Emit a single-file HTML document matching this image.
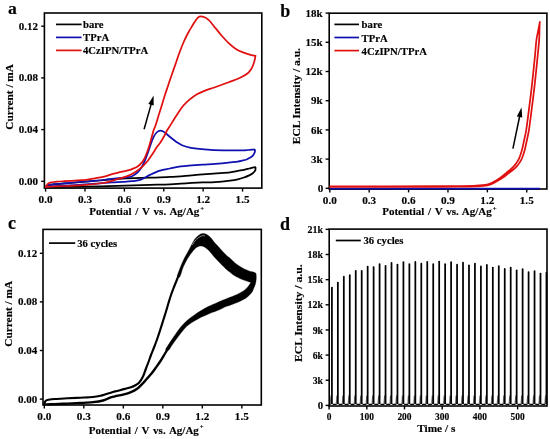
<!DOCTYPE html>
<html><head><meta charset="utf-8"><style>
html,body{margin:0;padding:0;background:#fff;}
svg{display:block;}
text{font-family:"Liberation Serif", serif;font-weight:bold;fill:#000;stroke:#000;stroke-width:0.15px;}
</style></head><body>
<div style="will-change:transform;width:550px;height:439px">
<svg width="550" height="439" viewBox="0 0 550 439">
<rect width="550" height="439" fill="#fff"/>
<rect x="44.40" y="13.00" width="217.40" height="175.10" fill="none" stroke="#000" stroke-width="1.6"/>
<line x1="45.60" y1="188.10" x2="45.60" y2="191.60" stroke="#000" stroke-width="1.4" stroke-linecap="butt"/>
<text x="45.60" y="203.40" font-size="11.2" text-anchor="middle" >0.0</text>
<line x1="84.99" y1="188.10" x2="84.99" y2="191.60" stroke="#000" stroke-width="1.4" stroke-linecap="butt"/>
<text x="84.99" y="203.40" font-size="11.2" text-anchor="middle" >0.3</text>
<line x1="124.38" y1="188.10" x2="124.38" y2="191.60" stroke="#000" stroke-width="1.4" stroke-linecap="butt"/>
<text x="124.38" y="203.40" font-size="11.2" text-anchor="middle" >0.6</text>
<line x1="163.77" y1="188.10" x2="163.77" y2="191.60" stroke="#000" stroke-width="1.4" stroke-linecap="butt"/>
<text x="163.77" y="203.40" font-size="11.2" text-anchor="middle" >0.9</text>
<line x1="203.16" y1="188.10" x2="203.16" y2="191.60" stroke="#000" stroke-width="1.4" stroke-linecap="butt"/>
<text x="203.16" y="203.40" font-size="11.2" text-anchor="middle" >1.2</text>
<line x1="242.55" y1="188.10" x2="242.55" y2="191.60" stroke="#000" stroke-width="1.4" stroke-linecap="butt"/>
<text x="242.55" y="203.40" font-size="11.2" text-anchor="middle" >1.5</text>
<line x1="41.20" y1="181.30" x2="44.40" y2="181.30" stroke="#000" stroke-width="1.4" stroke-linecap="butt"/>
<text x="38.00" y="184.80" font-size="11" text-anchor="end" >0.00</text>
<line x1="41.20" y1="129.60" x2="44.40" y2="129.60" stroke="#000" stroke-width="1.4" stroke-linecap="butt"/>
<text x="38.00" y="133.10" font-size="11" text-anchor="end" >0.04</text>
<line x1="41.20" y1="77.90" x2="44.40" y2="77.90" stroke="#000" stroke-width="1.4" stroke-linecap="butt"/>
<text x="38.00" y="81.40" font-size="11" text-anchor="end" >0.08</text>
<line x1="41.20" y1="26.20" x2="44.40" y2="26.20" stroke="#000" stroke-width="1.4" stroke-linecap="butt"/>
<text x="38.00" y="29.70" font-size="11" text-anchor="end" >0.12</text>
<text x="89.30" y="215.40" font-size="11" text-anchor="start" word-spacing="1.1">Potential / V vs. Ag/Ag</text>
<text x="200.30" y="210.80" font-size="6.8" text-anchor="start" >+</text>
<text transform="translate(12.8,96.9) rotate(-90)" font-size="10.7" text-anchor="middle" textLength="65.6" lengthAdjust="spacingAndGlyphs">Current / mA</text>
<text x="8.00" y="13.70" font-size="17.6" text-anchor="start" >a</text>
<line x1="56.00" y1="24.40" x2="81.60" y2="24.40" stroke="#000" stroke-width="1.7" stroke-linecap="butt"/>
<text x="83.00" y="28.40" font-size="10.7" text-anchor="start" >bare</text>
<line x1="56.00" y1="37.40" x2="81.60" y2="37.40" stroke="#1010b0" stroke-width="1.7" stroke-linecap="butt"/>
<text x="83.00" y="41.40" font-size="10.7" text-anchor="start" >TPrA</text>
<line x1="56.00" y1="50.40" x2="81.60" y2="50.40" stroke="#e01010" stroke-width="1.7" stroke-linecap="butt"/>
<text x="83.00" y="54.40" font-size="10.7" text-anchor="start" >4CzIPN/TPrA</text>
<line x1="144.10" y1="129.20" x2="151.26" y2="103.88" stroke="#000" stroke-width="1.5" stroke-linecap="butt"/>
<path d="M153.60,95.60 L153.68,105.60 L148.29,104.08 Z" fill="#000"/>
<path d="M45.80,186.80 C46.08,186.60 46.47,185.97 47.50,185.60 C48.53,185.23 48.25,185.03 52.00,184.60 C55.75,184.17 62.00,183.68 70.00,183.00 C78.00,182.32 91.20,181.23 100.00,180.50 C108.80,179.77 114.47,179.07 122.80,178.60 C131.13,178.13 142.13,177.98 150.00,177.70 C157.87,177.42 163.03,177.30 170.00,176.90 C176.97,176.50 184.53,175.85 191.80,175.30 C199.07,174.75 207.23,174.08 213.60,173.60 C219.97,173.12 225.97,172.85 230.00,172.40 C234.03,171.95 235.47,171.33 237.80,170.90 C240.13,170.47 242.10,170.20 244.00,169.80 C245.90,169.40 247.62,168.90 249.20,168.50 C250.78,168.10 252.47,167.60 253.50,167.40 C254.53,167.20 255.08,167.32 255.40,167.30" fill="none" stroke="#000" stroke-width="1.75" stroke-linejoin="round" stroke-linecap="round"/>
<path d="M255.40,167.30 C255.42,167.67 255.58,168.88 255.50,169.50 C255.42,170.12 255.40,170.33 254.90,171.00 C254.40,171.67 253.45,172.77 252.50,173.50 C251.55,174.23 250.62,174.73 249.20,175.40 C247.78,176.07 245.90,176.85 244.00,177.50 C242.10,178.15 240.13,178.78 237.80,179.30 C235.47,179.82 233.80,180.13 230.00,180.60 C226.20,181.07 219.55,181.80 215.00,182.10 C210.45,182.40 206.57,182.27 202.70,182.40 C198.83,182.53 195.43,182.70 191.80,182.90 C188.17,183.10 184.53,183.37 180.90,183.60 C177.27,183.83 175.15,184.08 170.00,184.30 C164.85,184.52 157.50,184.68 150.00,184.90 C142.50,185.12 133.33,185.37 125.00,185.60 C116.67,185.83 110.17,186.10 100.00,186.30 C89.83,186.50 73.03,186.70 64.00,186.80 C54.97,186.90 48.83,186.88 45.80,186.90" fill="none" stroke="#000" stroke-width="1.75" stroke-linejoin="round" stroke-linecap="round"/>
<path d="M45.80,186.80 C46.03,186.58 46.50,185.87 47.20,185.50 C47.90,185.13 47.20,184.95 50.00,184.60 C52.80,184.25 58.17,183.92 64.00,183.40 C69.83,182.88 78.50,182.07 85.00,181.50 C91.50,180.93 98.50,180.45 103.00,180.00 C107.50,179.55 109.00,179.17 112.00,178.80 C115.00,178.43 118.33,178.07 121.00,177.80 C123.67,177.53 126.17,177.45 128.00,177.20 C129.83,176.95 130.57,176.95 132.00,176.30 C133.43,175.65 135.35,174.30 136.60,173.30 C137.85,172.30 138.55,171.52 139.50,170.30 C140.45,169.08 141.35,167.75 142.30,166.00 C143.25,164.25 144.27,162.00 145.20,159.80 C146.13,157.60 146.98,155.35 147.90,152.80 C148.82,150.25 149.77,147.10 150.70,144.50 C151.63,141.90 152.52,139.20 153.50,137.20 C154.48,135.20 155.48,133.60 156.60,132.50 C157.72,131.40 159.10,130.77 160.20,130.60 C161.30,130.43 162.27,131.05 163.20,131.50 C164.13,131.95 164.50,132.25 165.80,133.30 C167.10,134.35 169.23,136.37 171.00,137.80 C172.77,139.23 174.57,140.67 176.40,141.90 C178.23,143.13 179.57,144.22 182.00,145.20 C184.43,146.18 187.27,147.10 191.00,147.80 C194.73,148.50 199.03,148.97 204.40,149.40 C209.77,149.83 216.93,150.25 223.20,150.40 C229.47,150.55 237.87,150.37 242.00,150.30 C246.13,150.23 246.33,150.10 248.00,150.00 C249.67,149.90 250.90,149.75 252.00,149.70 C253.10,149.65 254.17,149.70 254.60,149.70" fill="none" stroke="#1010b0" stroke-width="1.75" stroke-linejoin="round" stroke-linecap="round"/>
<path d="M254.60,149.70 C254.67,149.97 255.05,150.72 255.00,151.30 C254.95,151.88 254.73,152.38 254.30,153.20 C253.87,154.02 253.25,155.38 252.40,156.20 C251.55,157.02 250.27,157.52 249.20,158.10 C248.13,158.68 247.20,159.27 246.00,159.70 C244.80,160.13 243.37,160.38 242.00,160.70 C240.63,161.02 239.80,161.32 237.80,161.60 C235.80,161.88 231.90,162.20 230.00,162.40 C228.10,162.60 228.90,162.55 226.40,162.80 C223.90,163.05 218.95,163.60 215.00,163.90 C211.05,164.20 206.57,164.35 202.70,164.60 C198.83,164.85 195.43,165.10 191.80,165.40 C188.17,165.70 184.53,165.88 180.90,166.40 C177.27,166.92 173.48,167.80 170.00,168.50 C166.52,169.20 163.25,169.58 160.00,170.60 C156.75,171.62 153.67,173.10 150.50,174.60 C147.33,176.10 144.08,178.50 141.00,179.60 C137.92,180.70 135.17,180.82 132.00,181.20 C128.83,181.58 125.33,181.70 122.00,181.90 C118.67,182.10 115.67,182.17 112.00,182.40 C108.33,182.63 104.50,182.97 100.00,183.30 C95.50,183.63 91.00,184.00 85.00,184.40 C79.00,184.80 69.83,185.38 64.00,185.70 C58.17,186.02 53.03,186.12 50.00,186.30 C46.97,186.48 46.50,186.72 45.80,186.80" fill="none" stroke="#1010b0" stroke-width="1.75" stroke-linejoin="round" stroke-linecap="round"/>
<path d="M45.80,186.80 C46.03,186.43 46.50,185.30 47.20,184.60 C47.90,183.90 48.37,183.08 50.00,182.60 C51.63,182.12 54.67,181.93 57.00,181.70 C59.33,181.47 61.00,181.38 64.00,181.20 C67.00,181.02 71.33,180.83 75.00,180.60 C78.67,180.37 82.67,180.18 86.00,179.80 C89.33,179.42 92.17,178.80 95.00,178.30 C97.83,177.80 100.17,177.48 103.00,176.80 C105.83,176.12 109.00,175.03 112.00,174.20 C115.00,173.37 118.83,172.32 121.00,171.80 C123.17,171.28 123.67,171.37 125.00,171.10 C126.33,170.83 127.67,170.62 129.00,170.20 C130.33,169.78 131.77,169.10 133.00,168.60 C134.23,168.10 135.23,167.88 136.40,167.20 C137.57,166.52 138.87,165.57 140.00,164.50 C141.13,163.43 142.17,162.47 143.20,160.80 C144.23,159.13 145.25,156.78 146.20,154.50 C147.15,152.22 148.05,149.77 148.90,147.10 C149.75,144.43 150.53,141.27 151.30,138.50 C152.07,135.73 152.80,132.67 153.50,130.50 C154.20,128.33 154.67,127.95 155.50,125.50 C156.33,123.05 157.50,119.02 158.50,115.80 C159.50,112.58 160.42,109.70 161.50,106.20 C162.58,102.70 163.87,98.33 165.00,94.80 C166.13,91.27 167.22,88.22 168.30,85.00 C169.38,81.78 170.23,79.17 171.50,75.50 C172.77,71.83 174.57,66.83 175.90,63.00 C177.23,59.17 178.17,56.08 179.50,52.50 C180.83,48.92 182.52,44.67 183.90,41.50 C185.28,38.33 186.48,35.98 187.80,33.50 C189.12,31.02 190.12,29.25 191.80,26.60 C193.48,23.95 196.10,19.27 197.90,17.60 C199.70,15.93 200.82,16.23 202.60,16.60 C204.38,16.97 206.42,17.83 208.60,19.80 C210.78,21.77 213.62,25.87 215.70,28.40 C217.78,30.93 218.93,32.53 221.10,35.00 C223.27,37.47 226.30,40.92 228.70,43.20 C231.10,45.48 233.23,47.22 235.50,48.70 C237.77,50.18 239.80,51.08 242.30,52.10 C244.80,53.12 248.32,54.18 250.50,54.80 C252.68,55.42 254.58,55.63 255.40,55.80" fill="none" stroke="#e01010" stroke-width="1.75" stroke-linejoin="round" stroke-linecap="round"/>
<path d="M255.40,55.80 C255.30,56.42 255.15,58.05 254.80,59.50 C254.45,60.95 253.85,63.00 253.30,64.50 C252.75,66.00 252.42,67.05 251.50,68.50 C250.58,69.95 249.78,71.62 247.80,73.20 C245.82,74.78 242.78,76.50 239.60,78.00 C236.42,79.50 232.80,80.65 228.70,82.20 C224.60,83.75 218.95,85.90 215.00,87.30 C211.05,88.70 208.00,89.45 205.00,90.60 C202.00,91.75 199.63,92.67 197.00,94.20 C194.37,95.73 191.50,97.87 189.20,99.80 C186.90,101.73 185.10,103.52 183.20,105.80 C181.30,108.08 179.40,111.13 177.80,113.50 C176.20,115.87 174.87,117.98 173.60,120.00 C172.33,122.02 171.28,123.90 170.20,125.60 C169.12,127.30 168.00,128.63 167.10,130.20 C166.20,131.77 165.87,133.03 164.80,135.00 C163.73,136.97 162.02,139.98 160.70,142.00 C159.38,144.02 158.30,145.07 156.90,147.10 C155.50,149.13 153.82,151.92 152.30,154.20 C150.78,156.48 149.32,158.87 147.80,160.80 C146.28,162.73 144.72,164.33 143.20,165.80 C141.68,167.27 140.15,168.47 138.70,169.60 C137.25,170.73 136.18,171.60 134.50,172.60 C132.82,173.60 130.85,174.67 128.60,175.60 C126.35,176.53 123.77,177.32 121.00,178.20 C118.23,179.08 115.00,180.10 112.00,180.90 C109.00,181.70 107.33,182.33 103.00,183.00 C98.67,183.67 92.50,184.40 86.00,184.90 C79.50,185.40 70.00,185.72 64.00,186.00 C58.00,186.28 53.03,186.47 50.00,186.60 C46.97,186.73 46.50,186.77 45.80,186.80" fill="none" stroke="#e01010" stroke-width="1.75" stroke-linejoin="round" stroke-linecap="round"/>
<rect x="329.20" y="13.20" width="217.70" height="175.80" fill="none" stroke="#000" stroke-width="1.6"/>
<line x1="329.80" y1="189.00" x2="329.80" y2="192.40" stroke="#000" stroke-width="1.4" stroke-linecap="butt"/>
<text x="329.80" y="203.80" font-size="11.2" text-anchor="middle" >0.0</text>
<line x1="369.19" y1="189.00" x2="369.19" y2="192.40" stroke="#000" stroke-width="1.4" stroke-linecap="butt"/>
<text x="369.19" y="203.80" font-size="11.2" text-anchor="middle" >0.3</text>
<line x1="408.58" y1="189.00" x2="408.58" y2="192.40" stroke="#000" stroke-width="1.4" stroke-linecap="butt"/>
<text x="408.58" y="203.80" font-size="11.2" text-anchor="middle" >0.6</text>
<line x1="447.97" y1="189.00" x2="447.97" y2="192.40" stroke="#000" stroke-width="1.4" stroke-linecap="butt"/>
<text x="447.97" y="203.80" font-size="11.2" text-anchor="middle" >0.9</text>
<line x1="487.36" y1="189.00" x2="487.36" y2="192.40" stroke="#000" stroke-width="1.4" stroke-linecap="butt"/>
<text x="487.36" y="203.80" font-size="11.2" text-anchor="middle" >1.2</text>
<line x1="526.75" y1="189.00" x2="526.75" y2="192.40" stroke="#000" stroke-width="1.4" stroke-linecap="butt"/>
<text x="526.75" y="203.80" font-size="11.2" text-anchor="middle" >1.5</text>
<line x1="325.60" y1="188.30" x2="329.20" y2="188.30" stroke="#000" stroke-width="1.4" stroke-linecap="butt"/>
<text x="323.20" y="192.00" font-size="11" text-anchor="end" >0</text>
<line x1="325.60" y1="159.10" x2="329.20" y2="159.10" stroke="#000" stroke-width="1.4" stroke-linecap="butt"/>
<text x="322.60" y="162.80" font-size="11" text-anchor="end" >3k</text>
<line x1="325.60" y1="129.90" x2="329.20" y2="129.90" stroke="#000" stroke-width="1.4" stroke-linecap="butt"/>
<text x="322.60" y="133.60" font-size="11" text-anchor="end" >6k</text>
<line x1="325.60" y1="100.70" x2="329.20" y2="100.70" stroke="#000" stroke-width="1.4" stroke-linecap="butt"/>
<text x="322.60" y="104.40" font-size="11" text-anchor="end" >9k</text>
<line x1="325.60" y1="71.50" x2="329.20" y2="71.50" stroke="#000" stroke-width="1.4" stroke-linecap="butt"/>
<text x="322.60" y="75.20" font-size="11" text-anchor="end" >12k</text>
<line x1="325.60" y1="42.31" x2="329.20" y2="42.31" stroke="#000" stroke-width="1.4" stroke-linecap="butt"/>
<text x="322.60" y="46.01" font-size="11" text-anchor="end" >15k</text>
<line x1="325.60" y1="13.11" x2="329.20" y2="13.11" stroke="#000" stroke-width="1.4" stroke-linecap="butt"/>
<text x="322.60" y="16.81" font-size="11" text-anchor="end" >18k</text>
<text x="382.20" y="215.40" font-size="11" text-anchor="start" word-spacing="1.0">Potential / V vs. Ag/Ag</text>
<text x="492.70" y="210.80" font-size="6.8" text-anchor="start" >+</text>
<text transform="translate(300.1,96.2) rotate(-90)" font-size="11" text-anchor="middle" textLength="96.2" lengthAdjust="spacingAndGlyphs">ECL Intensity / a.u.</text>
<text x="280.30" y="17.00" font-size="18.0" text-anchor="start" >b</text>
<line x1="334.40" y1="24.40" x2="359.00" y2="24.40" stroke="#000" stroke-width="1.7" stroke-linecap="butt"/>
<text x="361.60" y="28.40" font-size="10.7" text-anchor="start" >bare</text>
<line x1="334.40" y1="37.50" x2="359.00" y2="37.50" stroke="#1010b0" stroke-width="1.7" stroke-linecap="butt"/>
<text x="361.60" y="41.50" font-size="10.7" text-anchor="start" >TPrA</text>
<line x1="334.40" y1="50.60" x2="359.00" y2="50.60" stroke="#e01010" stroke-width="1.7" stroke-linecap="butt"/>
<text x="361.60" y="54.60" font-size="10.7" text-anchor="start" >4CzIPN/TPrA</text>
<line x1="329.80" y1="188.90" x2="539.88" y2="188.90" stroke="#000" stroke-width="1.6" stroke-linecap="butt"/>
<line x1="329.80" y1="188.60" x2="539.88" y2="188.60" stroke="#1010b0" stroke-width="1.6" stroke-linecap="butt"/>
<path d="M330.00,186.30 C348.33,186.28 418.33,186.23 440.00,186.20 C461.67,186.17 454.00,186.19 460.00,186.10 C465.99,186.01 471.50,185.90 475.98,185.64 C480.47,185.38 483.94,185.18 486.91,184.54 C489.87,183.90 491.64,182.87 493.76,181.81 C495.89,180.76 497.88,179.42 499.67,178.20 C501.47,176.98 502.91,175.81 504.53,174.49 C506.15,173.17 508.07,171.44 509.40,170.28 C510.73,169.12 511.52,168.46 512.49,167.53 C513.46,166.59 514.39,165.69 515.22,164.66 C516.05,163.63 516.74,162.54 517.45,161.35 C518.17,160.16 518.75,159.38 519.49,157.51 C520.23,155.64 521.22,152.60 521.90,150.14 C522.58,147.67 523.05,145.11 523.58,142.71 C524.11,140.31 524.63,137.88 525.08,135.73 C525.53,133.57 525.73,133.28 526.27,129.80 C526.80,126.31 527.61,119.82 528.26,114.83 C528.91,109.83 529.54,104.83 530.16,99.83 C530.78,94.84 531.39,89.84 531.96,84.85 C532.52,79.85 533.04,74.86 533.56,69.86 C534.07,64.86 534.57,59.87 535.06,54.87 C535.54,49.87 535.91,44.02 536.46,39.87 C537.00,35.71 537.80,32.78 538.34,29.94 C538.88,27.09 539.47,23.99 539.70,22.80 C539.93,21.61 539.74,21.59 539.70,22.80 C539.66,24.01 539.55,27.17 539.46,30.06 C539.37,32.95 539.43,35.96 539.14,40.13 C538.86,44.31 538.23,50.13 537.74,55.13 C537.26,60.13 536.76,65.14 536.24,70.14 C535.73,75.14 535.21,80.15 534.64,85.15 C534.07,90.16 533.46,95.16 532.84,100.17 C532.22,105.17 531.59,110.17 530.94,115.17 C530.29,120.18 529.47,126.69 528.93,130.20 C528.40,133.72 528.17,134.09 527.72,136.27 C527.27,138.46 526.76,140.86 526.22,143.29 C525.68,145.72 525.22,148.33 524.50,150.86 C523.78,153.40 522.73,156.53 521.91,158.49 C521.08,160.46 520.37,161.38 519.55,162.65 C518.72,163.92 517.92,165.07 516.98,166.14 C516.04,167.21 514.97,168.14 513.91,169.07 C512.85,170.00 512.01,170.62 510.60,171.72 C509.19,172.83 507.18,174.46 505.47,175.71 C503.76,176.96 502.20,178.02 500.33,179.20 C498.46,180.38 496.44,181.74 494.24,182.79 C492.03,183.83 490.13,184.86 487.09,185.46 C484.06,186.06 480.53,186.15 476.02,186.36 C471.50,186.57 466.01,186.63 460.00,186.70 C454.00,186.77 461.67,186.77 440.00,186.80 C418.33,186.83 348.33,186.88 330.00,186.90" fill="none" stroke="#e01010" stroke-width="1.75" stroke-linejoin="round" stroke-linecap="round"/>
<line x1="512.90" y1="148.60" x2="519.73" y2="116.02" stroke="#000" stroke-width="1.5" stroke-linecap="butt"/>
<path d="M521.50,107.60 L522.27,117.57 L516.79,116.42 Z" fill="#000"/>
<rect x="43.00" y="229.40" width="218.30" height="175.60" fill="none" stroke="#000" stroke-width="1.6"/>
<line x1="44.30" y1="405.00" x2="44.30" y2="408.50" stroke="#000" stroke-width="1.4" stroke-linecap="butt"/>
<text x="44.30" y="419.80" font-size="11.2" text-anchor="middle" >0.0</text>
<line x1="83.81" y1="405.00" x2="83.81" y2="408.50" stroke="#000" stroke-width="1.4" stroke-linecap="butt"/>
<text x="83.81" y="419.80" font-size="11.2" text-anchor="middle" >0.3</text>
<line x1="123.32" y1="405.00" x2="123.32" y2="408.50" stroke="#000" stroke-width="1.4" stroke-linecap="butt"/>
<text x="123.32" y="419.80" font-size="11.2" text-anchor="middle" >0.6</text>
<line x1="162.83" y1="405.00" x2="162.83" y2="408.50" stroke="#000" stroke-width="1.4" stroke-linecap="butt"/>
<text x="162.83" y="419.80" font-size="11.2" text-anchor="middle" >0.9</text>
<line x1="202.34" y1="405.00" x2="202.34" y2="408.50" stroke="#000" stroke-width="1.4" stroke-linecap="butt"/>
<text x="202.34" y="419.80" font-size="11.2" text-anchor="middle" >1.2</text>
<line x1="241.85" y1="405.00" x2="241.85" y2="408.50" stroke="#000" stroke-width="1.4" stroke-linecap="butt"/>
<text x="241.85" y="419.80" font-size="11.2" text-anchor="middle" >1.5</text>
<line x1="39.80" y1="399.10" x2="43.00" y2="399.10" stroke="#000" stroke-width="1.4" stroke-linecap="butt"/>
<text x="37.30" y="402.60" font-size="11" text-anchor="end" >0.00</text>
<line x1="39.80" y1="350.50" x2="43.00" y2="350.50" stroke="#000" stroke-width="1.4" stroke-linecap="butt"/>
<text x="37.30" y="354.00" font-size="11" text-anchor="end" >0.04</text>
<line x1="39.80" y1="301.90" x2="43.00" y2="301.90" stroke="#000" stroke-width="1.4" stroke-linecap="butt"/>
<text x="37.30" y="305.40" font-size="11" text-anchor="end" >0.08</text>
<line x1="39.80" y1="253.30" x2="43.00" y2="253.30" stroke="#000" stroke-width="1.4" stroke-linecap="butt"/>
<text x="37.30" y="256.80" font-size="11" text-anchor="end" >0.12</text>
<text x="88.80" y="433.60" font-size="11" text-anchor="start" word-spacing="1.1">Potential / V vs. Ag/Ag</text>
<text x="199.80" y="429.00" font-size="6.8" text-anchor="start" >+</text>
<text transform="translate(11.8,313.8) rotate(-90)" font-size="10.7" text-anchor="middle" textLength="65.8" lengthAdjust="spacingAndGlyphs">Current / mA</text>
<text x="8.00" y="228.60" font-size="18.0" text-anchor="start" >c</text>
<line x1="49.00" y1="243.10" x2="75.20" y2="243.10" stroke="#000" stroke-width="1.7" stroke-linecap="butt"/>
<text x="77.30" y="247.00" font-size="10.7" text-anchor="start" textLength="39.9" lengthAdjust="spacingAndGlyphs" >36 cycles</text>
<path d="M44.50,402.60 C44.75,402.27 45.35,401.07 46.00,400.60 C46.65,400.13 46.95,400.07 48.40,399.80 C49.85,399.53 51.52,399.25 54.70,399.00 C57.88,398.75 63.25,398.52 67.50,398.30 C71.75,398.08 75.97,397.92 80.20,397.70 C84.43,397.48 89.52,397.32 92.90,397.00 C96.28,396.68 98.38,396.25 100.50,395.80 C102.62,395.35 104.02,394.77 105.60,394.30 C107.18,393.83 108.43,393.48 110.00,393.00 C111.57,392.52 113.33,391.87 115.00,391.40 C116.67,390.93 118.33,390.62 120.00,390.20 C121.67,389.78 123.17,389.40 125.00,388.90 C126.83,388.40 129.33,387.77 131.00,387.20 C132.67,386.63 133.67,386.23 135.00,385.50 C136.33,384.77 137.67,384.30 139.00,382.80 C140.33,381.30 141.83,378.88 143.00,376.50 C144.17,374.12 145.08,370.92 146.00,368.50 C146.92,366.08 147.67,364.25 148.50,362.00 C149.33,359.75 150.08,357.42 151.00,355.00 C151.92,352.58 153.00,350.08 154.00,347.50 C155.00,344.92 156.00,342.33 157.00,339.50 C158.00,336.67 159.00,333.58 160.00,330.50 C161.00,327.42 162.00,324.17 163.00,321.00 C164.00,317.83 165.08,314.50 166.00,311.50 C166.92,308.50 167.67,305.75 168.50,303.00 C169.33,300.25 170.08,297.67 171.00,295.00 C171.92,292.33 173.03,289.50 174.00,287.00 C174.97,284.50 175.90,282.25 176.80,280.00 C177.70,277.75 178.97,274.58 179.40,273.50" fill="none" stroke="#000" stroke-width="2.15" stroke-linejoin="round" stroke-linecap="round"/>
<path d="M167.20,350.00 C166.88,350.50 166.42,351.17 165.30,353.00 C164.18,354.83 162.12,358.50 160.50,361.00 C158.88,363.50 157.13,365.87 155.60,368.00 C154.07,370.13 152.75,372.00 151.30,373.80 C149.85,375.60 148.20,377.33 146.90,378.80 C145.60,380.27 145.07,380.98 143.50,382.60 C141.93,384.22 139.58,386.92 137.50,388.50 C135.42,390.08 133.42,391.08 131.00,392.10 C128.58,393.12 125.67,393.90 123.00,394.60 C120.33,395.30 117.17,395.80 115.00,396.30 C112.83,396.80 112.00,396.90 110.00,397.60 C108.00,398.30 105.85,399.73 103.00,400.50 C100.15,401.27 96.70,401.78 92.90,402.20 C89.10,402.62 84.43,402.77 80.20,403.00 C75.97,403.23 71.75,403.42 67.50,403.60 C63.25,403.78 58.28,403.97 54.70,404.10 C51.12,404.23 47.70,404.45 46.00,404.40 C44.30,404.35 44.75,403.90 44.50,403.80" fill="none" stroke="#000" stroke-width="2.35" stroke-linejoin="round" stroke-linecap="round"/>
<path d="M177.30,275.50 C177.85,273.98 179.43,269.28 180.60,266.40 C181.77,263.52 183.02,260.75 184.30,258.20 C185.58,255.65 186.98,253.55 188.30,251.10 C189.62,248.65 191.03,245.60 192.20,243.50 C193.37,241.40 194.15,239.93 195.30,238.50 C196.45,237.07 197.82,235.72 199.10,234.90 C200.38,234.08 201.72,233.67 203.00,233.60 C204.28,233.53 205.53,233.83 206.80,234.50 C208.07,235.17 209.38,236.35 210.60,237.60 C211.82,238.85 212.78,240.47 214.10,242.00 C215.42,243.53 216.98,245.13 218.50,246.80 C220.02,248.47 221.78,250.50 223.20,252.00 C224.62,253.50 225.90,254.80 227.00,255.80 C228.10,256.80 228.77,257.10 229.80,258.00 C230.83,258.90 232.00,260.13 233.20,261.20 C234.40,262.27 235.72,263.43 237.00,264.40 C238.28,265.37 239.58,266.20 240.90,267.00 C242.22,267.80 243.63,268.58 244.90,269.20 C246.17,269.82 247.43,270.30 248.50,270.70 C249.57,271.10 250.12,271.22 251.30,271.60 C252.48,271.98 254.77,272.18 255.60,273.00 C256.43,273.82 256.22,275.25 256.30,276.50 C256.38,277.75 256.27,279.17 256.10,280.50 C255.93,281.83 255.73,283.08 255.30,284.50 C254.87,285.92 254.12,287.62 253.50,289.00 C252.88,290.38 252.72,291.38 251.60,292.80 C250.48,294.22 248.88,296.00 246.80,297.50 C244.72,299.00 241.65,300.60 239.10,301.80 C236.55,303.00 233.88,303.83 231.50,304.70 C229.12,305.57 226.38,306.35 224.80,307.00 C223.22,307.65 223.40,307.92 222.00,308.60 C220.60,309.28 218.62,310.22 216.40,311.10 C214.18,311.98 211.25,312.87 208.70,313.90 C206.15,314.93 203.48,316.10 201.10,317.30 C198.72,318.50 196.47,319.85 194.40,321.10 C192.33,322.35 190.45,323.42 188.70,324.80 C186.95,326.18 185.63,327.45 183.90,329.40 C182.17,331.35 180.28,333.85 178.30,336.50 C176.32,339.15 173.58,343.05 172.00,345.30 C170.42,347.55 169.87,349.22 168.80,350.00 C167.73,350.78 165.73,350.78 165.60,350.00 C165.47,349.22 166.53,347.68 168.00,345.30 C169.47,342.92 172.28,338.75 174.40,335.70 C176.52,332.65 178.55,329.58 180.70,327.00 C182.85,324.42 185.02,322.22 187.30,320.20 C189.58,318.18 192.10,316.50 194.40,314.90 C196.70,313.30 198.72,312.03 201.10,310.60 C203.48,309.17 206.15,307.58 208.70,306.30 C211.25,305.02 214.18,303.87 216.40,302.90 C218.62,301.93 220.45,301.15 222.00,300.50 C223.55,299.85 223.63,299.82 225.70,299.00 C227.77,298.18 231.68,296.80 234.40,295.60 C237.12,294.40 239.93,293.07 242.00,291.80 C244.07,290.53 245.38,289.50 246.80,288.00 C248.22,286.50 250.15,283.82 250.50,282.80 C250.85,281.78 249.82,282.27 248.90,281.90 C247.98,281.53 246.32,281.07 245.00,280.60 C243.68,280.13 242.33,279.68 241.00,279.10 C239.67,278.52 238.33,277.83 237.00,277.10 C235.67,276.37 234.33,275.62 233.00,274.70 C231.67,273.78 230.33,272.68 229.00,271.60 C227.67,270.52 225.97,269.08 225.00,268.20 C224.03,267.32 224.17,267.30 223.20,266.30 C222.23,265.30 220.50,263.53 219.20,262.20 C217.90,260.87 216.67,259.70 215.40,258.30 C214.13,256.90 212.87,255.27 211.60,253.80 C210.33,252.33 209.08,250.68 207.80,249.50 C206.52,248.32 205.10,247.28 203.90,246.70 C202.70,246.12 201.67,245.97 200.60,246.00 C199.53,246.03 198.35,246.53 197.50,246.90 C196.65,247.27 196.52,247.18 195.50,248.20 C194.48,249.22 192.77,251.18 191.40,253.00 C190.03,254.82 188.67,256.72 187.30,259.10 C185.93,261.48 184.45,264.33 183.20,267.30 C181.95,270.27 180.78,275.53 179.80,276.90 C178.82,278.27 177.72,275.73 177.30,275.50 Z" fill="#000" stroke="#000" stroke-width="0.3" stroke-linejoin="round"/>
<path d="M192.60,244.60 C192.93,244.05 193.90,242.23 194.60,241.30 C195.30,240.37 195.90,239.77 196.80,239.00 C197.70,238.23 199.10,237.25 200.00,236.70 C200.90,236.15 201.60,235.88 202.20,235.70 C202.80,235.52 203.20,235.57 203.60,235.60 C204.00,235.63 204.43,235.85 204.60,235.90" fill="none" stroke="#fff" stroke-width="0.7" stroke-opacity="0.75" stroke-linecap="round"/>
<line x1="329.10" y1="406.00" x2="329.10" y2="409.40" stroke="#000" stroke-width="1.4" stroke-linecap="butt"/>
<text x="329.10" y="419.60" font-size="10.8" text-anchor="middle" textLength="4.7" lengthAdjust="spacingAndGlyphs" >0</text>
<line x1="366.80" y1="406.00" x2="366.80" y2="409.40" stroke="#000" stroke-width="1.4" stroke-linecap="butt"/>
<text x="366.80" y="419.60" font-size="10.8" text-anchor="middle" textLength="14.2" lengthAdjust="spacingAndGlyphs" >100</text>
<line x1="404.50" y1="406.00" x2="404.50" y2="409.40" stroke="#000" stroke-width="1.4" stroke-linecap="butt"/>
<text x="404.50" y="419.60" font-size="10.8" text-anchor="middle" textLength="14.2" lengthAdjust="spacingAndGlyphs" >200</text>
<line x1="442.20" y1="406.00" x2="442.20" y2="409.40" stroke="#000" stroke-width="1.4" stroke-linecap="butt"/>
<text x="442.20" y="419.60" font-size="10.8" text-anchor="middle" textLength="14.2" lengthAdjust="spacingAndGlyphs" >300</text>
<line x1="479.90" y1="406.00" x2="479.90" y2="409.40" stroke="#000" stroke-width="1.4" stroke-linecap="butt"/>
<text x="479.90" y="419.60" font-size="10.8" text-anchor="middle" textLength="14.2" lengthAdjust="spacingAndGlyphs" >400</text>
<line x1="517.60" y1="406.00" x2="517.60" y2="409.40" stroke="#000" stroke-width="1.4" stroke-linecap="butt"/>
<text x="517.60" y="419.60" font-size="10.8" text-anchor="middle" textLength="14.2" lengthAdjust="spacingAndGlyphs" >500</text>
<line x1="325.60" y1="405.40" x2="329.20" y2="405.40" stroke="#000" stroke-width="1.4" stroke-linecap="butt"/>
<text x="323.10" y="409.00" font-size="10.8" text-anchor="end" >0</text>
<line x1="325.60" y1="380.25" x2="329.20" y2="380.25" stroke="#000" stroke-width="1.4" stroke-linecap="butt"/>
<text x="323.10" y="383.85" font-size="10.8" text-anchor="end" textLength="10.4" lengthAdjust="spacingAndGlyphs" >3k</text>
<line x1="325.60" y1="355.10" x2="329.20" y2="355.10" stroke="#000" stroke-width="1.4" stroke-linecap="butt"/>
<text x="323.10" y="358.70" font-size="10.8" text-anchor="end" textLength="10.4" lengthAdjust="spacingAndGlyphs" >6k</text>
<line x1="325.60" y1="329.95" x2="329.20" y2="329.95" stroke="#000" stroke-width="1.4" stroke-linecap="butt"/>
<text x="323.10" y="333.55" font-size="10.8" text-anchor="end" textLength="10.4" lengthAdjust="spacingAndGlyphs" >9k</text>
<line x1="325.60" y1="304.80" x2="329.20" y2="304.80" stroke="#000" stroke-width="1.4" stroke-linecap="butt"/>
<text x="323.10" y="308.40" font-size="10.8" text-anchor="end" textLength="15.5" lengthAdjust="spacingAndGlyphs" >12k</text>
<line x1="325.60" y1="279.65" x2="329.20" y2="279.65" stroke="#000" stroke-width="1.4" stroke-linecap="butt"/>
<text x="323.10" y="283.25" font-size="10.8" text-anchor="end" textLength="15.5" lengthAdjust="spacingAndGlyphs" >15k</text>
<line x1="325.60" y1="254.51" x2="329.20" y2="254.51" stroke="#000" stroke-width="1.4" stroke-linecap="butt"/>
<text x="323.10" y="258.11" font-size="10.8" text-anchor="end" textLength="15.5" lengthAdjust="spacingAndGlyphs" >18k</text>
<line x1="325.60" y1="229.36" x2="329.20" y2="229.36" stroke="#000" stroke-width="1.4" stroke-linecap="butt"/>
<text x="323.10" y="232.96" font-size="10.8" text-anchor="end" textLength="15.5" lengthAdjust="spacingAndGlyphs" >21k</text>
<text x="417.20" y="431.90" font-size="11.4" text-anchor="start" textLength="38.1" lengthAdjust="spacingAndGlyphs" >Time / s</text>
<text transform="translate(301.8,313.2) rotate(-90)" font-size="11.1" text-anchor="middle" textLength="97.8" lengthAdjust="spacingAndGlyphs">ECL Intensity / a.u.</text>
<text x="280.10" y="229.90" font-size="18.0" text-anchor="start" >d</text>
<line x1="335.80" y1="240.50" x2="360.80" y2="240.50" stroke="#000" stroke-width="1.7" stroke-linecap="butt"/>
<text x="363.50" y="243.80" font-size="10.7" text-anchor="start" textLength="40" lengthAdjust="spacingAndGlyphs" >36 cycles</text>
<line x1="330.00" y1="404.30" x2="546.50" y2="404.30" stroke="#000" stroke-width="1.2" stroke-linecap="butt"/>
<path d="M329.80,404.2 L330.40,395.5 L331.90,395.5 L331.90,404.2 Z" fill="#666"/>
<line x1="331.90" y1="404.0" x2="331.90" y2="287.50" stroke="#000" stroke-width="1.75" stroke-linecap="round"/>
<ellipse cx="331.70" cy="404.9" rx="1.3" ry="1.0" fill="#fff" fill-opacity="0.92"/>
<path d="M335.76,404.2 L336.36,395.5 L337.86,395.5 L337.86,404.2 Z" fill="#666"/>
<line x1="337.86" y1="404.0" x2="337.86" y2="282.50" stroke="#000" stroke-width="1.75" stroke-linecap="round"/>
<ellipse cx="337.66" cy="404.9" rx="1.3" ry="1.0" fill="#fff" fill-opacity="0.92"/>
<path d="M341.72,404.2 L342.32,395.5 L343.82,395.5 L343.82,404.2 Z" fill="#666"/>
<line x1="343.82" y1="404.0" x2="343.82" y2="276.70" stroke="#000" stroke-width="1.75" stroke-linecap="round"/>
<ellipse cx="343.62" cy="404.9" rx="1.3" ry="1.0" fill="#fff" fill-opacity="0.92"/>
<path d="M347.68,404.2 L348.28,395.5 L349.78,395.5 L349.78,404.2 Z" fill="#666"/>
<line x1="349.78" y1="404.0" x2="349.78" y2="275.00" stroke="#000" stroke-width="1.75" stroke-linecap="round"/>
<ellipse cx="349.58" cy="404.9" rx="1.3" ry="1.0" fill="#fff" fill-opacity="0.92"/>
<path d="M353.64,404.2 L354.24,395.5 L355.74,395.5 L355.74,404.2 Z" fill="#666"/>
<line x1="355.74" y1="404.0" x2="355.74" y2="270.80" stroke="#000" stroke-width="1.75" stroke-linecap="round"/>
<ellipse cx="355.54" cy="404.9" rx="1.3" ry="1.0" fill="#fff" fill-opacity="0.92"/>
<path d="M359.60,404.2 L360.20,395.5 L361.70,395.5 L361.70,404.2 Z" fill="#666"/>
<line x1="361.70" y1="404.0" x2="361.70" y2="270.80" stroke="#000" stroke-width="1.75" stroke-linecap="round"/>
<ellipse cx="361.50" cy="404.9" rx="1.3" ry="1.0" fill="#fff" fill-opacity="0.92"/>
<path d="M365.56,404.2 L366.16,395.5 L367.66,395.5 L367.66,404.2 Z" fill="#666"/>
<line x1="367.66" y1="404.0" x2="367.66" y2="266.60" stroke="#000" stroke-width="1.75" stroke-linecap="round"/>
<ellipse cx="367.46" cy="404.9" rx="1.3" ry="1.0" fill="#fff" fill-opacity="0.92"/>
<path d="M371.52,404.2 L372.12,395.5 L373.62,395.5 L373.62,404.2 Z" fill="#666"/>
<line x1="373.62" y1="404.0" x2="373.62" y2="267.20" stroke="#000" stroke-width="1.75" stroke-linecap="round"/>
<ellipse cx="373.42" cy="404.9" rx="1.3" ry="1.0" fill="#fff" fill-opacity="0.92"/>
<path d="M377.48,404.2 L378.08,395.5 L379.58,395.5 L379.58,404.2 Z" fill="#666"/>
<line x1="379.58" y1="404.0" x2="379.58" y2="264.10" stroke="#000" stroke-width="1.75" stroke-linecap="round"/>
<ellipse cx="379.38" cy="404.9" rx="1.3" ry="1.0" fill="#fff" fill-opacity="0.92"/>
<path d="M383.44,404.2 L384.04,395.5 L385.54,395.5 L385.54,404.2 Z" fill="#666"/>
<line x1="385.54" y1="404.0" x2="385.54" y2="265.80" stroke="#000" stroke-width="1.75" stroke-linecap="round"/>
<ellipse cx="385.34" cy="404.9" rx="1.3" ry="1.0" fill="#fff" fill-opacity="0.92"/>
<path d="M389.40,404.2 L390.00,395.5 L391.50,395.5 L391.50,404.2 Z" fill="#666"/>
<line x1="391.50" y1="404.0" x2="391.50" y2="262.90" stroke="#000" stroke-width="1.75" stroke-linecap="round"/>
<ellipse cx="391.30" cy="404.9" rx="1.3" ry="1.0" fill="#fff" fill-opacity="0.92"/>
<path d="M395.36,404.2 L395.96,395.5 L397.46,395.5 L397.46,404.2 Z" fill="#666"/>
<line x1="397.46" y1="404.0" x2="397.46" y2="264.50" stroke="#000" stroke-width="1.75" stroke-linecap="round"/>
<ellipse cx="397.26" cy="404.9" rx="1.3" ry="1.0" fill="#fff" fill-opacity="0.92"/>
<path d="M401.32,404.2 L401.92,395.5 L403.42,395.5 L403.42,404.2 Z" fill="#666"/>
<line x1="403.42" y1="404.0" x2="403.42" y2="262.10" stroke="#000" stroke-width="1.75" stroke-linecap="round"/>
<ellipse cx="403.22" cy="404.9" rx="1.3" ry="1.0" fill="#fff" fill-opacity="0.92"/>
<path d="M407.28,404.2 L407.88,395.5 L409.38,395.5 L409.38,404.2 Z" fill="#666"/>
<line x1="409.38" y1="404.0" x2="409.38" y2="264.10" stroke="#000" stroke-width="1.75" stroke-linecap="round"/>
<ellipse cx="409.18" cy="404.9" rx="1.3" ry="1.0" fill="#fff" fill-opacity="0.92"/>
<path d="M413.24,404.2 L413.84,395.5 L415.34,395.5 L415.34,404.2 Z" fill="#666"/>
<line x1="415.34" y1="404.0" x2="415.34" y2="261.90" stroke="#000" stroke-width="1.75" stroke-linecap="round"/>
<ellipse cx="415.14" cy="404.9" rx="1.3" ry="1.0" fill="#fff" fill-opacity="0.92"/>
<path d="M419.20,404.2 L419.80,395.5 L421.30,395.5 L421.30,404.2 Z" fill="#666"/>
<line x1="421.30" y1="404.0" x2="421.30" y2="263.70" stroke="#000" stroke-width="1.75" stroke-linecap="round"/>
<ellipse cx="421.10" cy="404.9" rx="1.3" ry="1.0" fill="#fff" fill-opacity="0.92"/>
<path d="M425.16,404.2 L425.76,395.5 L427.26,395.5 L427.26,404.2 Z" fill="#666"/>
<line x1="427.26" y1="404.0" x2="427.26" y2="261.80" stroke="#000" stroke-width="1.75" stroke-linecap="round"/>
<ellipse cx="427.06" cy="404.9" rx="1.3" ry="1.0" fill="#fff" fill-opacity="0.92"/>
<path d="M431.12,404.2 L431.72,395.5 L433.22,395.5 L433.22,404.2 Z" fill="#666"/>
<line x1="433.22" y1="404.0" x2="433.22" y2="264.10" stroke="#000" stroke-width="1.75" stroke-linecap="round"/>
<ellipse cx="433.02" cy="404.9" rx="1.3" ry="1.0" fill="#fff" fill-opacity="0.92"/>
<path d="M437.08,404.2 L437.68,395.5 L439.18,395.5 L439.18,404.2 Z" fill="#666"/>
<line x1="439.18" y1="404.0" x2="439.18" y2="261.60" stroke="#000" stroke-width="1.75" stroke-linecap="round"/>
<ellipse cx="438.98" cy="404.9" rx="1.3" ry="1.0" fill="#fff" fill-opacity="0.92"/>
<path d="M443.04,404.2 L443.64,395.5 L445.14,395.5 L445.14,404.2 Z" fill="#666"/>
<line x1="445.14" y1="404.0" x2="445.14" y2="264.20" stroke="#000" stroke-width="1.75" stroke-linecap="round"/>
<ellipse cx="444.94" cy="404.9" rx="1.3" ry="1.0" fill="#fff" fill-opacity="0.92"/>
<path d="M449.00,404.2 L449.60,395.5 L451.10,395.5 L451.10,404.2 Z" fill="#666"/>
<line x1="451.10" y1="404.0" x2="451.10" y2="262.10" stroke="#000" stroke-width="1.75" stroke-linecap="round"/>
<ellipse cx="450.90" cy="404.9" rx="1.3" ry="1.0" fill="#fff" fill-opacity="0.92"/>
<path d="M454.96,404.2 L455.56,395.5 L457.06,395.5 L457.06,404.2 Z" fill="#666"/>
<line x1="457.06" y1="404.0" x2="457.06" y2="264.70" stroke="#000" stroke-width="1.75" stroke-linecap="round"/>
<ellipse cx="456.86" cy="404.9" rx="1.3" ry="1.0" fill="#fff" fill-opacity="0.92"/>
<path d="M460.92,404.2 L461.52,395.5 L463.02,395.5 L463.02,404.2 Z" fill="#666"/>
<line x1="463.02" y1="404.0" x2="463.02" y2="262.70" stroke="#000" stroke-width="1.75" stroke-linecap="round"/>
<ellipse cx="462.82" cy="404.9" rx="1.3" ry="1.0" fill="#fff" fill-opacity="0.92"/>
<path d="M466.88,404.2 L467.48,395.5 L468.98,395.5 L468.98,404.2 Z" fill="#666"/>
<line x1="468.98" y1="404.0" x2="468.98" y2="265.30" stroke="#000" stroke-width="1.75" stroke-linecap="round"/>
<ellipse cx="468.78" cy="404.9" rx="1.3" ry="1.0" fill="#fff" fill-opacity="0.92"/>
<path d="M472.84,404.2 L473.44,395.5 L474.94,395.5 L474.94,404.2 Z" fill="#666"/>
<line x1="474.94" y1="404.0" x2="474.94" y2="263.60" stroke="#000" stroke-width="1.75" stroke-linecap="round"/>
<ellipse cx="474.74" cy="404.9" rx="1.3" ry="1.0" fill="#fff" fill-opacity="0.92"/>
<path d="M478.80,404.2 L479.40,395.5 L480.90,395.5 L480.90,404.2 Z" fill="#666"/>
<line x1="480.90" y1="404.0" x2="480.90" y2="266.40" stroke="#000" stroke-width="1.75" stroke-linecap="round"/>
<ellipse cx="480.70" cy="404.9" rx="1.3" ry="1.0" fill="#fff" fill-opacity="0.92"/>
<path d="M484.76,404.2 L485.36,395.5 L486.86,395.5 L486.86,404.2 Z" fill="#666"/>
<line x1="486.86" y1="404.0" x2="486.86" y2="264.90" stroke="#000" stroke-width="1.75" stroke-linecap="round"/>
<ellipse cx="486.66" cy="404.9" rx="1.3" ry="1.0" fill="#fff" fill-opacity="0.92"/>
<path d="M490.72,404.2 L491.32,395.5 L492.82,395.5 L492.82,404.2 Z" fill="#666"/>
<line x1="492.82" y1="404.0" x2="492.82" y2="267.50" stroke="#000" stroke-width="1.75" stroke-linecap="round"/>
<ellipse cx="492.62" cy="404.9" rx="1.3" ry="1.0" fill="#fff" fill-opacity="0.92"/>
<path d="M496.68,404.2 L497.28,395.5 L498.78,395.5 L498.78,404.2 Z" fill="#666"/>
<line x1="498.78" y1="404.0" x2="498.78" y2="266.00" stroke="#000" stroke-width="1.75" stroke-linecap="round"/>
<ellipse cx="498.58" cy="404.9" rx="1.3" ry="1.0" fill="#fff" fill-opacity="0.92"/>
<path d="M502.64,404.2 L503.24,395.5 L504.74,395.5 L504.74,404.2 Z" fill="#666"/>
<line x1="504.74" y1="404.0" x2="504.74" y2="268.90" stroke="#000" stroke-width="1.75" stroke-linecap="round"/>
<ellipse cx="504.54" cy="404.9" rx="1.3" ry="1.0" fill="#fff" fill-opacity="0.92"/>
<path d="M508.60,404.2 L509.20,395.5 L510.70,395.5 L510.70,404.2 Z" fill="#666"/>
<line x1="510.70" y1="404.0" x2="510.70" y2="267.60" stroke="#000" stroke-width="1.75" stroke-linecap="round"/>
<ellipse cx="510.50" cy="404.9" rx="1.3" ry="1.0" fill="#fff" fill-opacity="0.92"/>
<path d="M514.56,404.2 L515.16,395.5 L516.66,395.5 L516.66,404.2 Z" fill="#666"/>
<line x1="516.66" y1="404.0" x2="516.66" y2="270.40" stroke="#000" stroke-width="1.75" stroke-linecap="round"/>
<ellipse cx="516.46" cy="404.9" rx="1.3" ry="1.0" fill="#fff" fill-opacity="0.92"/>
<path d="M520.52,404.2 L521.12,395.5 L522.62,395.5 L522.62,404.2 Z" fill="#666"/>
<line x1="522.62" y1="404.0" x2="522.62" y2="269.10" stroke="#000" stroke-width="1.75" stroke-linecap="round"/>
<ellipse cx="522.42" cy="404.9" rx="1.3" ry="1.0" fill="#fff" fill-opacity="0.92"/>
<path d="M526.48,404.2 L527.08,395.5 L528.58,395.5 L528.58,404.2 Z" fill="#666"/>
<line x1="528.58" y1="404.0" x2="528.58" y2="272.00" stroke="#000" stroke-width="1.75" stroke-linecap="round"/>
<ellipse cx="528.38" cy="404.9" rx="1.3" ry="1.0" fill="#fff" fill-opacity="0.92"/>
<path d="M532.44,404.2 L533.04,395.5 L534.54,395.5 L534.54,404.2 Z" fill="#666"/>
<line x1="534.54" y1="404.0" x2="534.54" y2="271.10" stroke="#000" stroke-width="1.75" stroke-linecap="round"/>
<ellipse cx="534.34" cy="404.9" rx="1.3" ry="1.0" fill="#fff" fill-opacity="0.92"/>
<path d="M538.40,404.2 L539.00,395.5 L540.50,395.5 L540.50,404.2 Z" fill="#666"/>
<line x1="540.50" y1="404.0" x2="540.50" y2="273.60" stroke="#000" stroke-width="1.75" stroke-linecap="round"/>
<ellipse cx="540.30" cy="404.9" rx="1.3" ry="1.0" fill="#fff" fill-opacity="0.92"/>
<path d="M544.36,404.2 L544.96,395.5 L546.46,395.5 L546.46,404.2 Z" fill="#666"/>
<line x1="546.46" y1="404.0" x2="546.46" y2="272.70" stroke="#000" stroke-width="1.75" stroke-linecap="round"/>
<ellipse cx="546.26" cy="404.9" rx="1.3" ry="1.0" fill="#fff" fill-opacity="0.92"/>
<rect x="329.20" y="229.10" width="217.80" height="176.90" fill="none" stroke="#000" stroke-width="1.6"/>
</svg></div></body></html>
